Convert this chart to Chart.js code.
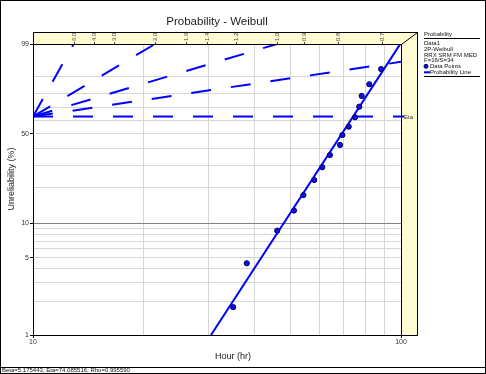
<!DOCTYPE html>
<html>
<head>
<meta charset="utf-8">
<script src="https://cdn.jsdelivr.net/npm/chart.js@4.4.0/dist/chart.umd.min.js"></script>
<style>
  body { margin: 0; background: #fff; }
  canvas { display: block; }
</style>
</head>
<body>
<canvas id="chart" width="486" height="374"></canvas>
<script>
// failure times (hr) and median-rank unreliability (%)
const hours = [35.0, 38.1, 46.1, 51.2, 54.3, 58.1, 61.1, 64.1, 68.3, 69.3, 72.1, 75.0, 77.0, 78.2, 82.0, 88.3];
const unreliability = [1.79, 4.45, 8.64, 12.9, 17.4, 23.1, 29.1, 35.9, 42.3, 49.2, 55.4, 62.6, 70.8, 78.6, 86.1, 93.4];

const beta = 5.175443;
const eta = 74.085516;
const rho = 0.995590;

const fanBetas = [6.0, 2.0, 1.0, 0.5];
const betaScale = [6.0, 4.0, 3.0, 2.0, 1.6, 1.4, 1.2, 1.0, 0.9, 0.8, 0.7];

const xGrid = [10, 20, 30, 40, 50, 60, 70, 80, 90, 100];
const xLabels = [10, 100];
const yGrid = [1, 2, 3, 4, 5, 6, 7, 8, 9, 10, 20, 30, 40, 50, 60, 70, 80, 90, 99];
const yLabels = [1, 5, 10, 50, 99];

const legendLines = ['Data1', '2P-Weibull', 'RRX SRM FM MED', 'F=16/S=34'];

// weibull probability paper: y = ln(-ln(1-F))
function wb(p) { return Math.log(-Math.log(1 - p / 100)); }
function weibullTime(p) { return eta * Math.pow(-Math.log(1 - p / 100), 1 / beta); }

const yMin = wb(1);
const yMax = wb(99);

Chart.defaults.font.family = "'Liberation Sans', Arial, sans-serif";
Chart.defaults.color = '#333';

const datasets = [];

datasets.push({
  label: 'Data Points',
  data: hours.map((h, i) => ({ x: h, y: wb(unreliability[i]) })),
  pointStyle: 'circle',
  pointRadius: 2.6,
  backgroundColor: '#1010e0',
  borderColor: '#000060',
  borderWidth: 1,
  showLine: false,
  order: 0,
});

datasets.push({
  label: 'Probability Line',
  data: [1, 99].map(p => ({ x: weibullTime(p), y: wb(p) })),
  showLine: true,
  borderColor: '#0000ff',
  borderWidth: 2,
  pointRadius: 0,
  order: 1,
});

fanBetas.forEach((b) => {
  const tEnd = Math.min(100, 10 * Math.exp(yMax / b));
  datasets.push({
    data: [{ x: 10, y: 0 }, { x: tEnd, y: b * Math.log(tEnd / 10) }],
    showLine: true,
    borderColor: '#0000ff',
    borderWidth: 2,
    borderDash: [20, 20],
    pointRadius: 0,
    order: 2,
  });
});

// eta line
datasets.push({
  data: [{ x: 10, y: 0 }, { x: 100, y: 0 }],
  showLine: true,
  borderColor: '#0000ff',
  borderWidth: 2,
  borderDash: [20, 20],
  pointRadius: 0,
  order: 2,
});

const decor = {
  id: 'decor',
  afterDraw(chart) {
    const { ctx, chartArea: a, scales: { x } } = chart;
    const W = chart.width, H = chart.height;
    const bandTop = a.top - 12;
    const bandRight = a.right + 16;
    ctx.save();

    // yellow band
    ctx.fillStyle = '#fffbd2';
    ctx.fillRect(a.left + 1, bandTop + 1, bandRight - a.left - 1, a.top - bandTop - 1);
    ctx.fillRect(a.right + 1, a.top, bandRight - a.right - 1, a.bottom - a.top);

    ctx.strokeStyle = '#000';
    ctx.lineWidth = 1;
    ctx.strokeRect(a.left + 0.5, bandTop + 0.5, bandRight - a.left, a.bottom - bandTop);
    ctx.beginPath();
    ctx.moveTo(a.left, a.top + 0.5);
    ctx.lineTo(a.right + 1, a.top + 0.5);
    ctx.moveTo(a.right + 0.5, a.top);
    ctx.lineTo(a.right + 0.5, a.bottom);
    ctx.moveTo(a.right + 0.5, a.top + 0.5);
    ctx.lineTo(bandRight + 0.5, bandTop + 0.5);
    ctx.stroke();

    // beta scale
    ctx.font = '6px ' + Chart.defaults.font.family;
    ctx.fillStyle = '#444';
    ctx.strokeStyle = '#444';
    betaScale.forEach((b) => {
      const px = Math.round(x.getPixelForValue(10 * Math.exp(yMax / b))) + 0.5;
      ctx.beginPath();
      ctx.moveTo(px, a.top);
      ctx.lineTo(px, a.top - 2);
      ctx.stroke();
      ctx.save();
      ctx.translate(px, a.top - 3);
      ctx.rotate(-Math.PI / 2);
      ctx.textAlign = 'left';
      ctx.textBaseline = 'middle';
      ctx.fillText(b.toFixed(1), 0, 0);
      ctx.restore();
    });

    // eta label
    const ey = chart.scales.y.getPixelForValue(0);
    ctx.strokeStyle = '#0000ff';
    ctx.lineWidth = 2;
    ctx.beginPath();
    ctx.moveTo(a.right, ey);
    ctx.lineTo(a.right + 3, ey);
    ctx.stroke();
    ctx.fillStyle = '#333';
    ctx.textAlign = 'left';
    ctx.textBaseline = 'middle';
    ctx.fillText('Eta', a.right + 3, ey + 0.5);

    // title and axis titles
    ctx.fillStyle = '#222';
    ctx.textAlign = 'center';
    ctx.font = '11.5px ' + Chart.defaults.font.family;
    ctx.fillText('Probability - Weibull', (a.left + a.right) / 2, 21.5);
    ctx.font = '9px ' + Chart.defaults.font.family;
    ctx.fillText('Hour (hr)', 233, 356.5);
    ctx.save();
    ctx.translate(12, 179);
    ctx.rotate(-Math.PI / 2);
    ctx.fillText('Unreliability (%)', 0, 0);
    ctx.restore();

    // legend
    const lx = 424;
    ctx.font = '6px ' + Chart.defaults.font.family;
    ctx.fillStyle = '#111';
    ctx.textAlign = 'left';
    ctx.fillText('Probability', lx, 34.8);
    ctx.strokeStyle = '#000';
    ctx.lineWidth = 1;
    ctx.beginPath();
    ctx.moveTo(lx, 38.5);
    ctx.lineTo(480, 38.5);
    ctx.moveTo(lx, 76.5);
    ctx.lineTo(480, 76.5);
    ctx.stroke();
    legendLines.forEach((t, i) => ctx.fillText(t, lx, 43.3 + i * 5.8));
    ctx.fillStyle = '#1010e0';
    ctx.strokeStyle = '#000060';
    ctx.beginPath();
    ctx.arc(lx + 2, 66.3, 2, 0, Math.PI * 2);
    ctx.fill();
    ctx.stroke();
    ctx.fillStyle = '#111';
    ctx.fillText('Data Points', lx + 6, 66.5);
    ctx.strokeStyle = '#0000ff';
    ctx.lineWidth = 2;
    ctx.beginPath();
    ctx.moveTo(lx, 72.3);
    ctx.lineTo(lx + 6, 72.3);
    ctx.stroke();
    ctx.fillText('Probability Line', lx + 6, 72.3);

    // footer and frame
    ctx.strokeStyle = '#000';
    ctx.lineWidth = 1;
    ctx.beginPath();
    ctx.moveTo(0, 367.5);
    ctx.lineTo(W, 367.5);
    ctx.stroke();
    ctx.strokeRect(0.5, 0.5, W - 1, H - 1);
    ctx.fillStyle = '#111';
    ctx.fillText('Beta=' + beta.toFixed(6) + ', Eta=' + eta.toFixed(6) + ', Rho=' + rho.toFixed(6), 2, 370.8);

    ctx.restore();
  }
};

const ctx = document.getElementById('chart').getContext('2d');

new Chart(ctx, {
  type: 'scatter',
  data: { datasets: datasets },
  options: {
    responsive: false,
    animation: false,
    devicePixelRatio: 1,
    layout: { padding: { left: 0, top: 44, right: 85, bottom: 0 } },
    plugins: {
      legend: { display: false },
      tooltip: { enabled: false },
      title: { display: false },
    },
    scales: {
      x: {
        type: 'logarithmic',
        min: 10,
        max: 100,
        afterBuildTicks: (scale) => { scale.ticks = xGrid.map(v => ({ value: v })); },
        afterFit: (scale) => { scale.height = 39; },
        border: { color: '#000', width: 1 },
        grid: {
          color: '#d6d6d6',
          tickLength: 3,
          tickColor: (c) => (c.tick && xLabels.includes(c.tick.value) ? '#000' : 'rgba(0,0,0,0)'),
        },
        ticks: {
          autoSkip: false,
          maxRotation: 0,
          padding: 0,
          font: { size: 7 },
          color: '#333',
          callback: (v) => (xLabels.includes(v) ? String(v) : ''),
        },
      },
      y: {
        type: 'linear',
        min: yMin,
        max: yMax,
        afterBuildTicks: (scale) => { scale.ticks = yGrid.map(p => ({ value: wb(p) })); },
        afterFit: (scale) => { scale.width = 33; },
        border: { color: '#000', width: 1 },
        grid: {
          color: (c) => (c.index === yGrid.indexOf(10) ? '#808080' : '#d6d6d6'),
          tickLength: 3,
          tickColor: (c) => (yLabels.includes(yGrid[c.index]) ? '#000' : 'rgba(0,0,0,0)'),
        },
        ticks: {
          autoSkip: false,
          padding: 1,
          font: { size: 7 },
          color: '#333',
          callback: (v, i) => (yLabels.includes(yGrid[i]) ? String(yGrid[i]) : ''),
        },
      },
    },
  },
  plugins: [decor],
});
</script>
</body>
</html>
